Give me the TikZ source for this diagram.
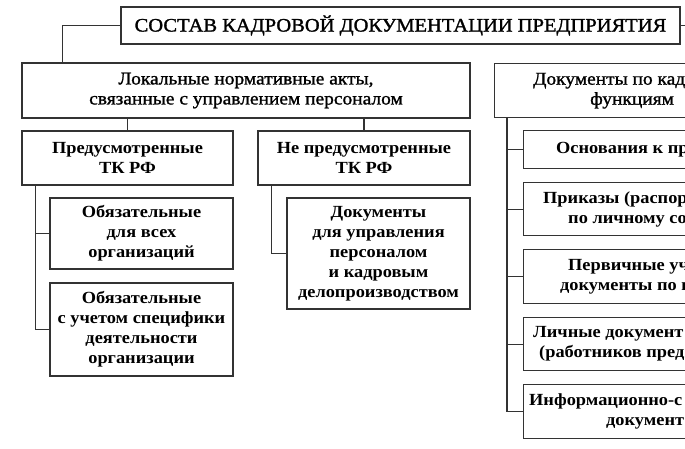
\documentclass[tikz,border=0pt]{standalone}
\usepackage{fontspec}
\setmainfont{Liberation Serif}[FakeStretch=1.08]
\usetikzlibrary{positioning}
\tikzset{
  box/.style={draw=black!80, line width=1.4pt, inner sep=0pt, align=center, font=\bfseries\fontsize{17}{20}\selectfont},
  topbox/.style={box, font=\addfontfeature{FakeBold=1.2}\fontsize{18}{20}\selectfont},
  rbox/.style={box, anchor=north west, minimum width=240pt},
  rtext/.style={inner sep=0pt, align=left, font=\bfseries\fontsize{17}{20}\selectfont},
  ttext/.style={rtext, font=\addfontfeature{FakeBold=1.2}\fontsize{18}{20}\selectfont},
  link/.style={draw=black!80, line width=1.4pt}
}
\begin{document}
\begin{tikzpicture}[x=1pt, y=-1pt]
\useasboundingbox (0,0) rectangle (685,448);

\node[topbox, minimum width=559, minimum height=37, font=\addfontfeature{FakeBold=1.5}\fontsize{19}{21}\selectfont] (tit) at (400.5,25.5) {СОСТАВ КАДРОВОЙ ДОКУМЕНТАЦИИ ПРЕДПРИЯТИЯ};
\node[topbox, minimum width=448, minimum height=55] (lok) at (246,90.5) {Локальные нормативные акты,\\связанные с управлением персоналом};
\node[topbox, anchor=north west, minimum width=260, minimum height=54] (kadr) at (494,63) {};
\node[ttext, right=39pt of kadr.west] (kadr-t) {Документы по кад\\\hspace*{57pt}функциям};

\node[box, minimum width=211, minimum height=54] (pred) at (127.5,158) {Предусмотренные\\ТК РФ};
\node[box, minimum width=212, minimum height=54] (nepred) at (364,158) {Не предусмотренные\\ТК РФ};
\node[box, minimum width=183, minimum height=71] (vse) at (141.5,233.5) {Обязательные\\для всех\\организаций};
\node[box, minimum width=183, minimum height=93] (spec) at (141.5,329.5) {Обязательные\\с учетом специфики\\деятельности\\организации};
\node[box, minimum width=183, minimum height=111] (upr) at (378.5,253.5) {Документы\\для управления\\персоналом\\и кадровым\\делопроизводством};

\node[rbox, minimum height=38] (osn) at (523,130) {};
\node[rbox, minimum height=53] (prik) at (523,182) {};
\node[rbox, minimum height=54] (perv) at (523,249) {};
\node[rbox, minimum height=53] (lich) at (523,317) {};
\node[rbox, minimum height=54] (inf) at (523,384) {};
\node[rtext, right=33pt of osn.west] (osn-t) {Основания к пр};
\node[rtext, right=20pt of prik.west] (prik-t) {Приказы (распор\\\hspace*{25pt}по личному со};
\node[rtext, right=37pt of perv.west] (perv-t) {\hspace*{8pt}Первичные уч\\документы по к};
\node[rtext, right=10pt of lich.west] (lich-t) {Личные документ\\\hspace*{6pt}(работников пред};
\node[rtext, right=6pt of inf.west] (inf-t) {Информационно-с\\\hspace*{77pt}документ};

\coordinate (tr) at (720,25.5);
\draw[link] (tit.west) -| ([xshift=41pt]lok.north west);
\draw[link] (tit.east) -- (tr);
\draw[link] (pred.north) -- (pred.north |- lok.south);
\draw[link] (nepred.north) -- (nepred.north |- lok.south);
\draw[link] ([xshift=14pt]pred.south west) |- (vse.west);
\draw[link] ([xshift=14pt]pred.south west) |- (spec.west);
\draw[link] ([xshift=14pt]nepred.south west) |- (upr.west);
\foreach \n in {osn,prik,perv,lich,inf}
  \draw[link] ([xshift=13pt]kadr.south west) |- (\n.west);
\end{tikzpicture}
\end{document}
